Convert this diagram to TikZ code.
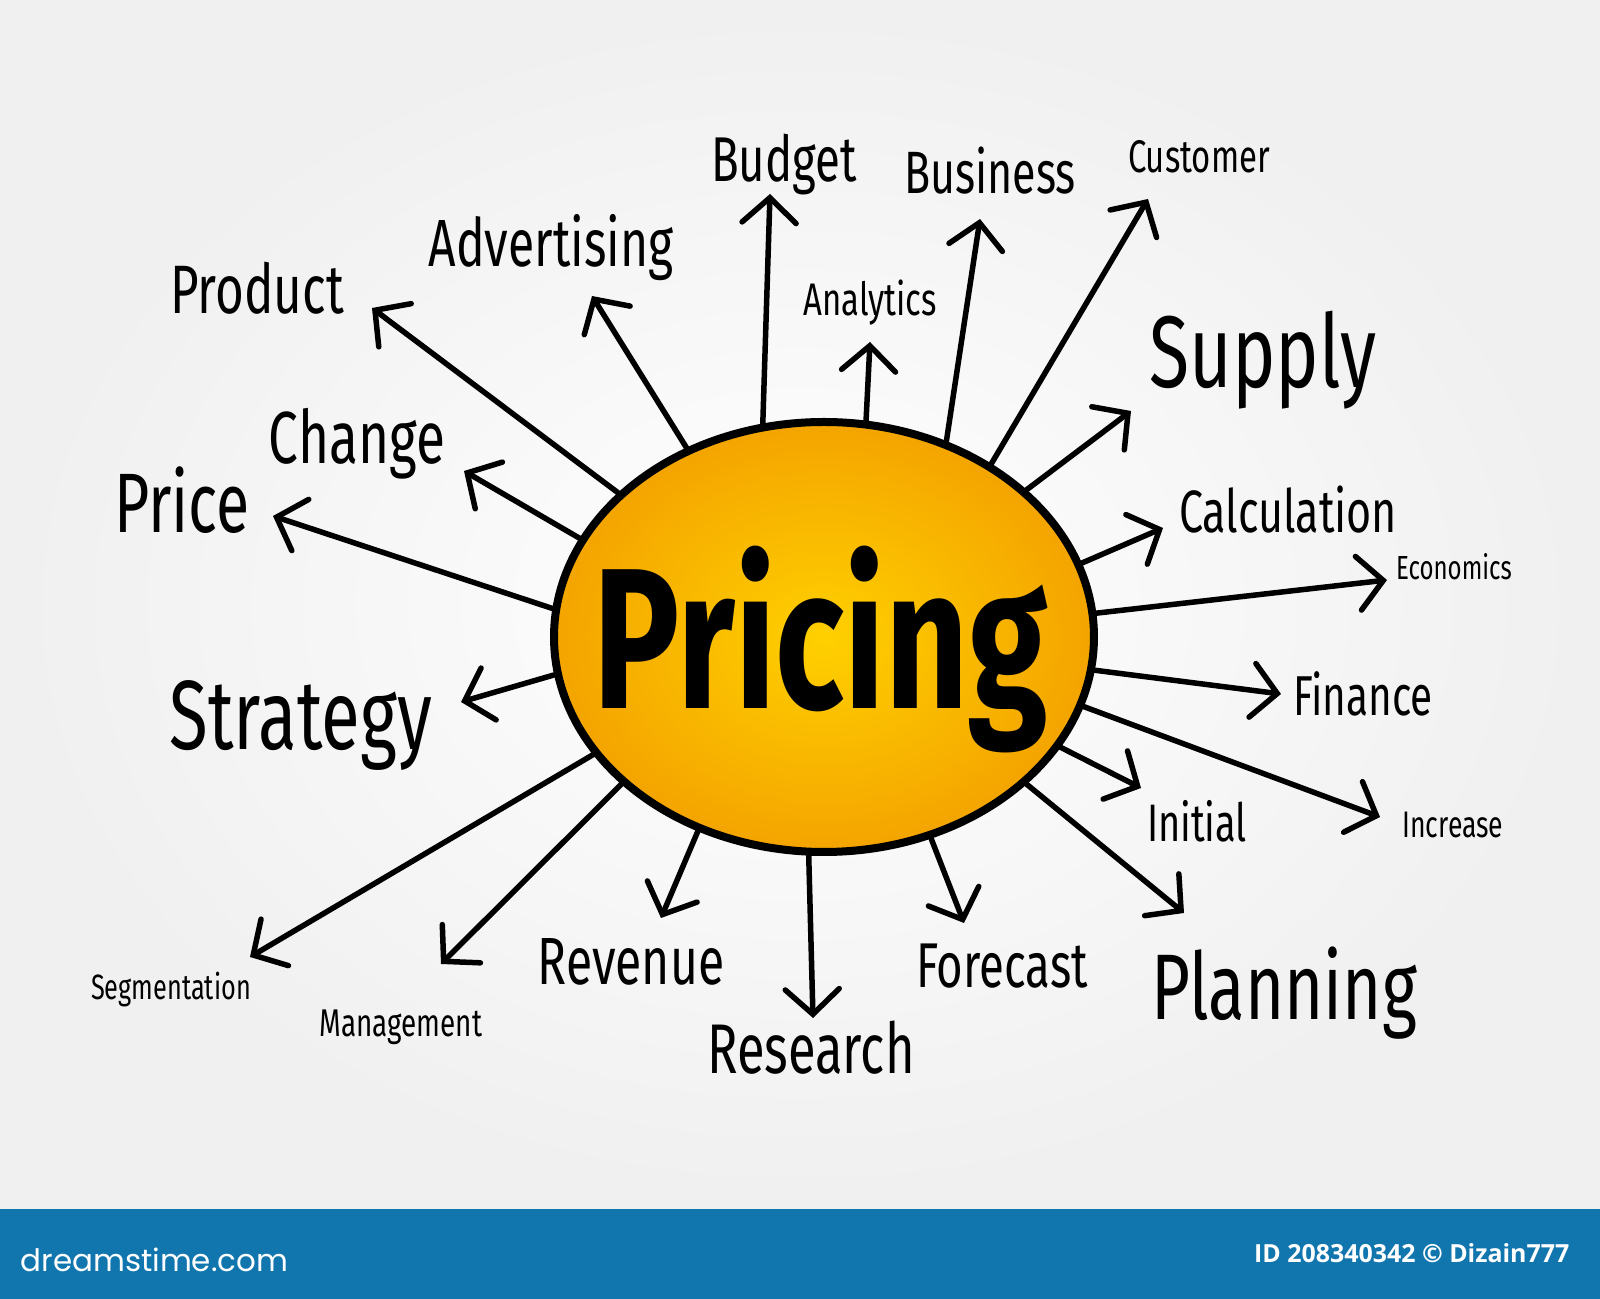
\documentclass[tikz,border=0pt]{standalone}
\usepackage{fontspec}
\setmainfont{Fira Sans}[FakeStretch=0.72]
\newfontfamily\logofont{Poppins}
\newfontfamily\idfont{Open Sans}
\usetikzlibrary{shapes.geometric,arrows.meta,positioning}
\definecolor{bannerblue}{HTML}{1276AE}
\definecolor{sunyellow}{HTML}{FFD000}
\definecolor{sunorange}{HTML}{F4A400}
\newcommand{\fsz}[1]{\fontsize{#1}{#1}\selectfont}
\tikzset{word/.style={anchor=base,inner sep=0pt,font=\fsz{18}},
         spoke/.style={line width=0.55mm,line cap=round,-{Straight Barb[length=2.5mm,width=5.4mm,line cap=round]}}}

\begin{document}
\begin{tikzpicture}[x=0.1mm,y=-0.1mm]
                \useasboundingbox (0,0) rectangle (1600,1299);
                \fill[inner color=white,outer color=black!6] (0,0) rectangle (1600,1209);
                \fill[bannerblue] (0,1209) rectangle (1600,1299);
                \node[anchor=base west,inner sep=0pt,text=white,font=\logofont\fsz{8.8}] (site) at (20,1272) {dreamstime.com};
                \node[anchor=base east,inner sep=0pt,text=white,font=\idfont\bfseries\fsz{7.1}] (imgid) at (1570,1263) {ID 208340342 © Dizain777};
                % centre
                \node[ellipse,draw,line width=0.8mm,minimum width=54mm,minimum height=43mm,inner sep=0pt,
                    inner color=sunyellow,outer color=sunorange] (pricing) at (824,637) {};
                \node[word,font=\bfseries\fsz{57}] (pricingtxt) at (821,709) {Pricing};
                % spokes
                \foreach \n/\a/\x/\y in {Budget/106/770/194,Business/58/980/219,Customer/46/1148/199,
                    Analytics/79/870/342,Advertising/126/592/296,Product/145/372/308,Change/158/464/471,
                    Price/174/273/516,Strategy/188/461/702,Segmentation/207/250/957,Management/216/441/964,
                    Revenue/237/661/918,Research/266/813/1018,Forecast/298/964/923,Planning/324/1184/913,
                    Initial/335/1141/788,Increase/345/1380/817,Finance/353/1281/694,Economics/5/1387/580,
                    Calculation/16/1163/528,Supply/36/1131/411} {
                    \coordinate (t\n) at (\x,\y);
                    \draw[spoke] (pricing.\a) -- (t\n);
                }
                % words
                \node[word] (budget) at (784,182) {Budget};
                \node[word,font=\fsz{17}] (business) at (990,194) {Business};
                \node[word,font=\fsz{13}] (customer) at (1199,173) {Customer};
                \node[word,font=\fsz{13}] (analytics) at (870,316) {Analytics};
                \node[word,font=\fsz{19}] (advertising) at (551,267) {Advertising};
                \node[word,font=\fsz{19.5}] (product) at (257,314) {Product};
                \node[word,font=\fsz{21}] (change) at (357,464) {Change};
                \node[word,font=\fsz{24}] (price) at (182,533) {Price};
                \node[word,font=\fsz{28}] (strategy) at (301,750) {Strategy};
                \node[word,font=\fsz{10}] (segmentation) at (171,1000) {Segmentation};
                \node[word,font=\fsz{11}] (management) at (401,1037) {Management};
                \node[word,font=\fsz{19}] (revenue) at (631,985) {Revenue};
                \node[word,font=\fsz{20}] (research) at (811,1074) {Research};
                \node[word,font=\fsz{18}] (forecast) at (1002,988) {Forecast};
                \node[word,font=\fsz{26.5}] (planning) at (1284,1020) {Planning};
                \node[word,font=\fsz{15}] (initial) at (1197,842) {Initial};
                \node[word,font=\fsz{10.5}] (increase) at (1453,838) {Increase};
                \node[word,font=\fsz{16}] (finance) at (1363,716) {Finance};
                \node[word,font=\fsz{9.5}] (economics) at (1454,580) {Economics};
                \node[word,font=\fsz{17}] (calculation) at (1288,533) {Calculation};
                \node[word,font=\fsz{29}] (supply) at (1263,388) {Supply};
\end{tikzpicture}
\end{document}
